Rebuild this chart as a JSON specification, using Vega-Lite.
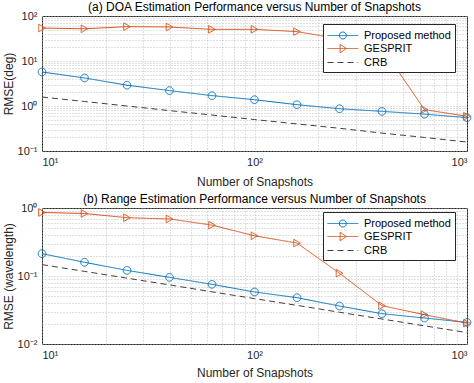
{
  "$schema": "https://vega.github.io/schema/vega-lite/v6.json",
  "padding": {"left": 1, "top": 0, "right": 6, "bottom": 0},
  "spacing": 4,
  "config": {
    "font": "Liberation Sans",
    "view": {"stroke": "#262626", "strokeWidth": 1},
    "axis": {
      "domain": false,
      "ticks": false,
      "grid": true,
      "gridDash": [1, 2],
      "gridColor": "#b0b0b0",
      "gridWidth": 0.8,
      "labelFontSize": 11,
      "labelColor": "#262626",
      "labelFont": "Liberation Sans",
      "titleFont": "Liberation Sans",
      "titleFontSize": 12,
      "titleFontWeight": "normal",
      "titleColor": "#262626",
      "labelPadding": 5,
      "labelOverlap": false
    },
    "title": {"font": "Liberation Sans", "fontSize": 12, "fontWeight": "normal", "color": "#000000", "offset": -4, "frame": "group"},
    "legend": {"labelFont": "Liberation Sans"}
  },
  "datasets": {
    "a": [
      {"N": 10, "series": "Proposed method", "v": 5.7},
      {"N": 15.85, "series": "Proposed method", "v": 4.2},
      {"N": 25.12, "series": "Proposed method", "v": 2.9},
      {"N": 39.81, "series": "Proposed method", "v": 2.2},
      {"N": 63.1, "series": "Proposed method", "v": 1.7},
      {"N": 100, "series": "Proposed method", "v": 1.38},
      {"N": 158.5, "series": "Proposed method", "v": 1.07},
      {"N": 251.2, "series": "Proposed method", "v": 0.87},
      {"N": 398.1, "series": "Proposed method", "v": 0.76},
      {"N": 631, "series": "Proposed method", "v": 0.66},
      {"N": 1000, "series": "Proposed method", "v": 0.55},
      {"N": 10, "series": "GESPRIT", "v": 54},
      {"N": 15.85, "series": "GESPRIT", "v": 52},
      {"N": 25.12, "series": "GESPRIT", "v": 58},
      {"N": 39.81, "series": "GESPRIT", "v": 57},
      {"N": 63.1, "series": "GESPRIT", "v": 50.5},
      {"N": 100, "series": "GESPRIT", "v": 50.5},
      {"N": 158.5, "series": "GESPRIT", "v": 45},
      {"N": 251.2, "series": "GESPRIT", "v": 31},
      {"N": 398.1, "series": "GESPRIT", "v": 20},
      {"N": 631, "series": "GESPRIT", "v": 0.83},
      {"N": 1000, "series": "GESPRIT", "v": 0.59},
      {"N": 10, "series": "CRB", "v": 1.58},
      {"N": 15.85, "series": "CRB", "v": 1.26},
      {"N": 25.12, "series": "CRB", "v": 1.0},
      {"N": 39.81, "series": "CRB", "v": 0.79},
      {"N": 63.1, "series": "CRB", "v": 0.63},
      {"N": 100, "series": "CRB", "v": 0.5},
      {"N": 158.5, "series": "CRB", "v": 0.4},
      {"N": 251.2, "series": "CRB", "v": 0.32},
      {"N": 398.1, "series": "CRB", "v": 0.25},
      {"N": 631, "series": "CRB", "v": 0.2},
      {"N": 1000, "series": "CRB", "v": 0.158}
    ],
    "b": [
      {"N": 10, "series": "Proposed method", "v": 0.213},
      {"N": 15.85, "series": "Proposed method", "v": 0.159},
      {"N": 25.12, "series": "Proposed method", "v": 0.121},
      {"N": 39.81, "series": "Proposed method", "v": 0.0955},
      {"N": 63.1, "series": "Proposed method", "v": 0.0754},
      {"N": 100, "series": "Proposed method", "v": 0.0582},
      {"N": 158.5, "series": "Proposed method", "v": 0.048},
      {"N": 251.2, "series": "Proposed method", "v": 0.0362},
      {"N": 398.1, "series": "Proposed method", "v": 0.0279},
      {"N": 631, "series": "Proposed method", "v": 0.0241},
      {"N": 1000, "series": "Proposed method", "v": 0.0208},
      {"N": 10, "series": "GESPRIT", "v": 0.86},
      {"N": 15.85, "series": "GESPRIT", "v": 0.83},
      {"N": 25.12, "series": "GESPRIT", "v": 0.72},
      {"N": 39.81, "series": "GESPRIT", "v": 0.69},
      {"N": 63.1, "series": "GESPRIT", "v": 0.56},
      {"N": 100, "series": "GESPRIT", "v": 0.39},
      {"N": 158.5, "series": "GESPRIT", "v": 0.305},
      {"N": 251.2, "series": "GESPRIT", "v": 0.11},
      {"N": 398.1, "series": "GESPRIT", "v": 0.0366},
      {"N": 631, "series": "GESPRIT", "v": 0.027},
      {"N": 1000, "series": "GESPRIT", "v": 0.0202},
      {"N": 10, "series": "CRB", "v": 0.147},
      {"N": 15.85, "series": "CRB", "v": 0.117},
      {"N": 25.12, "series": "CRB", "v": 0.093},
      {"N": 39.81, "series": "CRB", "v": 0.074},
      {"N": 63.1, "series": "CRB", "v": 0.0585},
      {"N": 100, "series": "CRB", "v": 0.0465},
      {"N": 158.5, "series": "CRB", "v": 0.037},
      {"N": 251.2, "series": "CRB", "v": 0.0293},
      {"N": 398.1, "series": "CRB", "v": 0.0233},
      {"N": 631, "series": "CRB", "v": 0.0185},
      {"N": 1000, "series": "CRB", "v": 0.0147}
    ]
  },
  "resolve": {
    "scale": {"x": "independent", "y": "independent", "color": "independent", "strokeDash": "independent", "shape": "independent"},
    "legend": {"color": "independent", "strokeDash": "independent", "shape": "independent"}
  },
  "vconcat": [
    {
      "title": "(a) DOA Estimation Performance versus Number of Snapshots",
      "width": 425,
      "height": 135,
      "data": {"name": "a"},
      "encoding": {
        "x": {"field": "N", "type": "quantitative", "title": "Number of Snapshots",
          "scale": {"type": "log", "domain": [10, 1000], "nice": false},
          "axis": {"values": [10,20,30,40,50,60,70,80,90,100,200,300,400,500,600,700,800,900,1000],
            "labelExpr": "datum.value==10?'10¹':datum.value==100?'10²':datum.value==1000?'10³':''", "titlePadding": 9}},
        "y": {"field": "v", "type": "quantitative", "title": "RMSE(deg)",
          "scale": {"type": "log", "domain": [0.1, 100], "nice": false},
          "axis": {"values": [0.1,0.2,0.3,0.4,0.5,0.6,0.7,0.8,0.9,1,2,3,4,5,6,7,8,9,10,20,30,40,50,60,70,80,90,100],
            "labelExpr": "datum.value==0.1?'10⁻¹':datum.value==1?'10⁰':datum.value==10?'10¹':datum.value==100?'10²':''", "titlePadding": 2}},
        "color": {"field": "series", "type": "nominal",
          "scale": {"domain": ["Proposed method", "GESPRIT", "CRB"], "range": ["#0072BD", "#D95319", "#404040"]},
          "legend": {"title": null, "orient": "none", "legendX": 281, "legendY": 8,
            "fillColor": "white", "strokeColor": "#262626", "padding": 4, "labelFontSize": 11, "labelColor": "#000000",
            "symbolSize": 196, "symbolStrokeWidth": 1, "rowPadding": 0, "labelOffset": 22,
            "encode": {"symbols": {"update": {"shape": {"signal": "datum.value==='CRB' ? 'M-1,0H3.4' : datum.value==='GESPRIT' ? 'M-1,0H3.4M0.8,-0.6L1.7,0L0.8,0.6Z' : 'M-1,0H3.4M1.7,0A0.5,0.5 0 1,1 0.7,0A0.5,0.5 0 1,1 1.7,0'"}, "fill": {"value": "transparent"}}}}}},
        "strokeDash": {"field": "series", "type": "nominal",
          "scale": {"domain": ["Proposed method", "GESPRIT", "CRB"], "range": [[1, 0], [1, 0], [6, 4]]},
          "legend": {"title": null, "orient": "none", "legendX": 281, "legendY": 8}}
      },
      "layer": [
        {"mark": {"type": "line", "strokeWidth": 1}},
        {"transform": [{"filter": "datum.series !== 'CRB'"}],
          "mark": {"type": "point", "filled": false, "size": 58, "strokeWidth": 1, "opacity": 1},
          "encoding": {"shape": {"field": "series", "type": "nominal",
            "scale": {"domain": ["Proposed method", "GESPRIT"], "range": ["circle", "triangle-right"]}, "legend": null},
            "strokeDash": {"value": [1, 0]}}}
      ]
    },
    {
      "title": "(b) Range Estimation Performance versus Number of Snapshots",
      "width": 425,
      "height": 136,
      "data": {"name": "b"},
      "encoding": {
        "x": {"field": "N", "type": "quantitative", "title": "Number of Snapshots",
          "scale": {"type": "log", "domain": [10, 1000], "nice": false},
          "axis": {"values": [10,20,30,40,50,60,70,80,90,100,200,300,400,500,600,700,800,900,1000],
            "labelExpr": "datum.value==10?'10¹':datum.value==100?'10²':datum.value==1000?'10³':''", "titlePadding": 7}},
        "y": {"field": "v", "type": "quantitative", "title": "RMSE (wavelength)",
          "scale": {"type": "log", "domain": [0.01, 1], "nice": false},
          "axis": {"values": [0.01,0.02,0.03,0.04,0.05,0.06,0.07,0.08,0.09,0.1,0.2,0.3,0.4,0.5,0.6,0.7,0.8,0.9,1],
            "labelExpr": "datum.value==0.01?'10⁻²':datum.value==0.1?'10⁻¹':datum.value==1?'10⁰':''", "titlePadding": 2}},
        "color": {"field": "series", "type": "nominal",
          "scale": {"domain": ["Proposed method", "GESPRIT", "CRB"], "range": ["#0072BD", "#D95319", "#404040"]},
          "legend": {"title": null, "orient": "none", "legendX": 281, "legendY": 4,
            "fillColor": "white", "strokeColor": "#262626", "padding": 4, "labelFontSize": 11, "labelColor": "#000000",
            "symbolSize": 196, "symbolStrokeWidth": 1, "rowPadding": 0, "labelOffset": 22,
            "encode": {"symbols": {"update": {"shape": {"signal": "datum.value==='CRB' ? 'M-1,0H3.4' : datum.value==='GESPRIT' ? 'M-1,0H3.4M0.8,-0.6L1.7,0L0.8,0.6Z' : 'M-1,0H3.4M1.7,0A0.5,0.5 0 1,1 0.7,0A0.5,0.5 0 1,1 1.7,0'"}, "fill": {"value": "transparent"}}}}}},
        "strokeDash": {"field": "series", "type": "nominal",
          "scale": {"domain": ["Proposed method", "GESPRIT", "CRB"], "range": [[1, 0], [1, 0], [6, 4]]},
          "legend": {"title": null, "orient": "none", "legendX": 281, "legendY": 4}}
      },
      "layer": [
        {"mark": {"type": "line", "strokeWidth": 1}},
        {"transform": [{"filter": "datum.series !== 'CRB'"}],
          "mark": {"type": "point", "filled": false, "size": 58, "strokeWidth": 1, "opacity": 1},
          "encoding": {"shape": {"field": "series", "type": "nominal",
            "scale": {"domain": ["Proposed method", "GESPRIT"], "range": ["circle", "triangle-right"]}, "legend": null},
            "strokeDash": {"value": [1, 0]}}}
      ]
    }
  ]
}
